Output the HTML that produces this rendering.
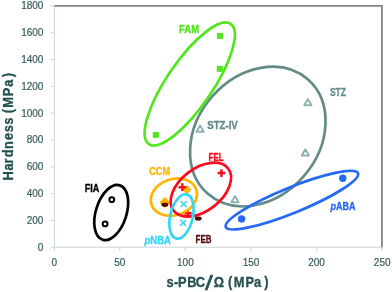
<!DOCTYPE html>
<html><head><meta charset="utf-8">
<style>
html,body{margin:0;padding:0;background:#fff;width:392px;height:292px;overflow:hidden}
svg{display:block}
text{font-family:"Liberation Sans",Arial,sans-serif}
.tk{font-size:10px;fill:#3a5c5c;stroke:#3a5c5c;stroke-width:0.2px}
.lb{font-size:10.2px;font-weight:bold;stroke-width:0.3px}
</style></head>
<body>
<svg width="392" height="292" viewBox="0 0 392 292" xmlns="http://www.w3.org/2000/svg">
<rect width="392" height="292" fill="#fff"/>
<!-- axes -->
<g stroke="#c6d3d6" stroke-width="1" fill="none">
<line x1="54.4" y1="6" x2="54.4" y2="250.5"/>
<line x1="50.8" y1="247.2" x2="382" y2="247.2"/>
<!-- y ticks -->
<path d="M50.8 6H54.4M50.8 32.8H54.4M50.8 59.6H54.4M50.8 86.4H54.4M50.8 113.2H54.4M50.8 140H54.4M50.8 166.8H54.4M50.8 193.6H54.4M50.8 220.4H54.4"/>
<!-- x ticks -->
<path d="M119.8 247.2V250.8M185.4 247.2V250.8M251 247.2V250.8M316.6 247.2V250.8M382.2 247.2V250.8"/>
</g>
<path d="M54.4 5.9H381.9V247.2" stroke="#808587" stroke-width="1.8" fill="none"/>
<!-- y tick labels -->
<g class="tk" text-anchor="end">
<text x="43.4" y="9.4">1800</text>
<text x="43.4" y="36.2">1600</text>
<text x="43.4" y="63.0">1400</text>
<text x="43.4" y="89.8">1200</text>
<text x="43.4" y="116.6">1000</text>
<text x="43.4" y="143.4">800</text>
<text x="43.4" y="170.2">600</text>
<text x="43.4" y="197.0">400</text>
<text x="43.4" y="223.8">200</text>
<text x="43.4" y="250.6">0</text>
</g>
<g class="tk" text-anchor="middle">
<text x="54.2" y="266.2">0</text>
<text x="119.8" y="266.2">50</text>
<text x="185.4" y="266.2">100</text>
<text x="251" y="266.2">150</text>
<text x="316.6" y="266.2">200</text>
<text x="382.2" y="266.2">250</text>
</g>
<!-- axis titles -->
<text transform="translate(0,287.3) scale(0.88,1)" y="0" font-size="14.6" font-weight="bold" fill="#24504f" stroke="#24504f" stroke-width="0.3"><tspan x="189.28 197.86 202.34 212.70 222.53">s-PBC</tspan><tspan x="243.01 256.82 259.14 265.51 278.98 288.52 300.20">Ω (MPa)</tspan></text>
<text transform="translate(209.05,287.3) scale(1.45,1)" x="0" y="2.4" text-anchor="middle" font-size="19.6" fill="#24504f" stroke="#24504f" stroke-width="0.45">/</text>
<text transform="translate(12.8,181) rotate(-90) scale(0.88,1)" x="0.70 11.93 19.86 26.92 36.31 46.70 55.30 63.82 73.30 76.87 83.35 96.26 106.99 117.93" y="0" font-size="14.6" font-weight="bold" fill="#24504f" stroke="#24504f" stroke-width="0.3">Hardness (MPa)</text>

<!-- markers -->
<g fill="#52e61c">
<rect x="217" y="32.9" width="6" height="6"/>
<rect x="216.8" y="65.9" width="6" height="6"/>
<rect x="152.8" y="131.9" width="6" height="6"/>
</g>
<g fill="none" stroke="#8fb3b0" stroke-width="1.9">
<path d="M307.9 99.0L311.5 105.2H304.3Z" stroke-linejoin="round"/>
<path d="M305.4 149.3L309.0 155.5H301.8Z" stroke-linejoin="round"/>
<path d="M235.0 196.0L238.6 202.2H231.4Z" stroke-linejoin="round"/>
<path d="M200.1 125.5L203.7 131.7H196.5Z" stroke-linejoin="round"/>
</g>
<g fill="#2369f3">
<circle cx="342.8" cy="178.3" r="3.7"/>
<circle cx="241.6" cy="218.9" r="3.7"/>
</g>
<g fill="none" stroke="#000" stroke-width="2">
<circle cx="111.8" cy="199.7" r="2.4"/>
<circle cx="105.1" cy="223.9" r="2.4"/>
</g>
<g fill="#ffb400">
<path d="M164.9 196.9L170.5 202.5L164.9 208.1L159.3 202.5Z"/>
<path d="M186.9 185L191.5 189.6L186.9 194.2L182.3 189.6Z"/>
</g>
<g stroke="#fa0c1e" stroke-width="2.4" fill="none">
<path d="M217.6 173.05H225.3M221.45 169.2V176.9"/>
<path d="M178.5 187.2H186.2M182.35 183.35V191.05"/>
<path d="M184 213.2H191.7M187.85 209.35V217.05"/>
</g>
<g stroke="#33d6f5" stroke-width="1.6" fill="none">
<path d="M180.8 201.2L186.6 207.0M186.6 201.2L180.8 207.0"/>
<path d="M180.2 220.0L186.0 225.8M186.0 220.0L180.2 225.8"/>
</g>
<g fill="#5a0c10" stroke="#2a0505" stroke-width="1">
<rect x="162" y="203.3" width="5.8" height="2.9" rx="1.2"/>
<rect x="195.4" y="217.1" width="5.8" height="2.9" rx="1.2"/>
</g>

<!-- ellipses -->
<g fill="none" stroke-width="2.7">
<ellipse cx="257.80" cy="136.57" rx="75.98" ry="60.73" transform="rotate(-48.92 257.80 136.57)" stroke="#648b88"/>
<ellipse cx="189.73" cy="83.98" rx="72.68" ry="22.88" transform="rotate(-55.77 189.73 83.98)" stroke="#52e61c"/>
<ellipse cx="291.90" cy="200.15" rx="71.36" ry="12.70" transform="rotate(-22.08 291.90 200.15)" stroke="#2369f3"/>
<ellipse cx="111.23" cy="212.54" rx="28.51" ry="15.32" transform="rotate(-72.41 111.23 212.54)" stroke="#000"/>
<ellipse cx="173.91" cy="197.08" rx="23.59" ry="18.02" transform="rotate(-18.38 173.91 197.08)" stroke="#ffb400"/>
<ellipse cx="200.88" cy="189.58" rx="34.49" ry="21.18" transform="rotate(-37.74 200.88 189.58)" stroke="#fa0c1e"/>
<ellipse cx="181.50" cy="216.44" rx="22.62" ry="11.27" transform="rotate(-76.68 181.50 216.44)" stroke="#33d6f5"/>
</g>

<!-- labels -->
<text class="lb" x="179" y="33.3" fill="#52e61c" stroke="#52e61c" textLength="20.1" lengthAdjust="spacingAndGlyphs">FAM</text>
<text class="lb" x="329.9" y="95.9" fill="#648b88" stroke="#648b88" textLength="16" lengthAdjust="spacingAndGlyphs">STZ</text>
<text class="lb" x="207.2" y="128.5" fill="#648b88" stroke="#648b88" textLength="30.6" lengthAdjust="spacingAndGlyphs">STZ-IV</text>
<text class="lb" x="208.6" y="160.6" fill="#fa0c1e" stroke="#fa0c1e" textLength="15.2" lengthAdjust="spacingAndGlyphs">FEL</text>
<text class="lb" x="149.2" y="174.5" fill="#ffb400" stroke="#ffb400" textLength="21" lengthAdjust="spacingAndGlyphs">CCM</text>
<text class="lb" x="84.8" y="191.5" fill="#000" stroke="#000" textLength="14.6" lengthAdjust="spacingAndGlyphs">FIA</text>
<text class="lb" x="330.5" y="209.8" fill="#2369f3" stroke="#2369f3" textLength="25.1" lengthAdjust="spacingAndGlyphs"><tspan font-style="italic">p</tspan>ABA</text>
<text class="lb" x="144.5" y="243.5" fill="#33d6f5" stroke="#33d6f5" textLength="26.5" lengthAdjust="spacingAndGlyphs"><tspan font-style="italic">p</tspan>NBA</text>
<text class="lb" x="195.6" y="242.9" fill="#5a0c10" stroke="#5a0c10" textLength="15.9" lengthAdjust="spacingAndGlyphs">FEB</text>
</svg>
</body></html>
